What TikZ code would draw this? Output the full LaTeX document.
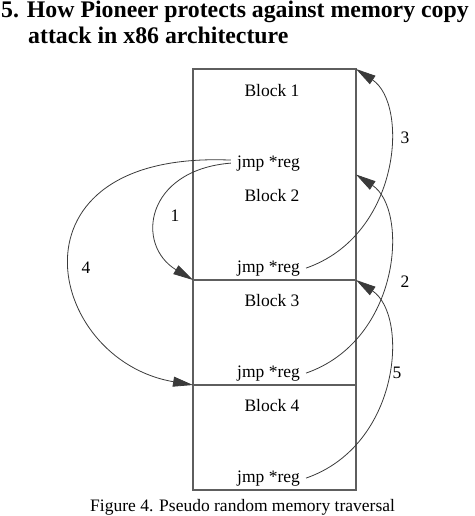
\documentclass[tikz,border=0pt]{standalone}
\usepackage{fontspec}
\setmainfont{Liberation Serif}
\usepackage{tikz}
\usetikzlibrary{positioning,arrows.meta}
\definecolor{edgegray}{HTML}{5E5E5E}
\definecolor{curvegray}{HTML}{3A3A3A}
\tikzset{
    mem-block/.style = {draw=edgegray, line width=1.4pt, rectangle, minimum width=163pt, inner sep=0pt, outer sep=0pt},
    block-label/.style = {anchor=base, inner sep=0pt, font=\fontsize{17.5}{20}\selectfont},
    jmp-label/.style = {anchor=base, inner ysep=0pt, inner xsep=6pt, font=\fontsize{17.5}{20}\selectfont},
    hop-num/.style = {font=\fontsize{17.5}{20}\selectfont},
    jump-arrow/.style = {draw=curvegray, line width=0.8pt, -{Triangle[length=20pt,width=10pt]}},
    title-line/.style = {anchor=base west, inner sep=0pt, font=\fontsize{23.8}{28}\selectfont\bfseries},
}

\begin{document}
\begin{tikzpicture}[x=1pt,y=-1pt]
\useasboundingbox (0,0) rectangle (474,516);

% heading and caption
\node[title-line] (title-a) at (1,18) {5. How Pioneer protects against memory copy};
\node[title-line] (title-b) at (28,44) {attack in x86 architecture};
\node[anchor=base west, inner sep=0pt, font=\fontsize{17.5}{20}\selectfont] (caption) at (90,511) {Figure 4. Pseudo random memory traversal};

% memory
\node[mem-block, minimum height=211pt, anchor=north west] (mem12) at (193,69) {};
\node[mem-block, minimum height=105pt, below=0pt of mem12] (mem3) {};
\node[mem-block, minimum height=105pt, below=0pt of mem3] (mem4) {};

\node[block-label] (blk1) at (272,97) {Block 1};
\node[jmp-label] (jmpA) at (268.5,167) {jmp *reg};
\node[block-label] (blk2) at (272,201) {Block 2};
\node[jmp-label] (jmpB) at (268.5,272) {jmp *reg};
\node[block-label] (blk3) at (272,306) {Block 3};
\node[jmp-label] (jmpC) at (268.5,377) {jmp *reg};
\node[block-label] (blk4) at (272,411) {Block 4};
\node[jmp-label] (jmpD) at (268.5,482) {jmp *reg};

% jumps
\draw[jump-arrow] (jmpA.west) .. controls (145,170) and (135,245) .. (mem3.north west);
\draw[jump-arrow] ([yshift=3pt]jmpA.west) .. controls (0,150) and (45,360) .. (mem4.north west);
\draw[jump-arrow] (jmpB.east) .. controls +(95,-33) and +(53,35) .. (mem12.north east);
\draw[jump-arrow] (jmpC.east) .. controls +(95,-33) and +(53,35) .. (mem12.east);
\draw[jump-arrow] (jmpD.east) .. controls +(95,-33) and +(53,35) .. (mem3.north east);

\node[hop-num] (n1) at (175,216) {1};
\node[hop-num] (n2) at (405,282) {2};
\node[hop-num] (n3) at (405,138) {3};
\node[hop-num] (n4) at (86,268) {4};
\node[hop-num] (n5) at (397,373) {5};
\end{tikzpicture}
\end{document}
